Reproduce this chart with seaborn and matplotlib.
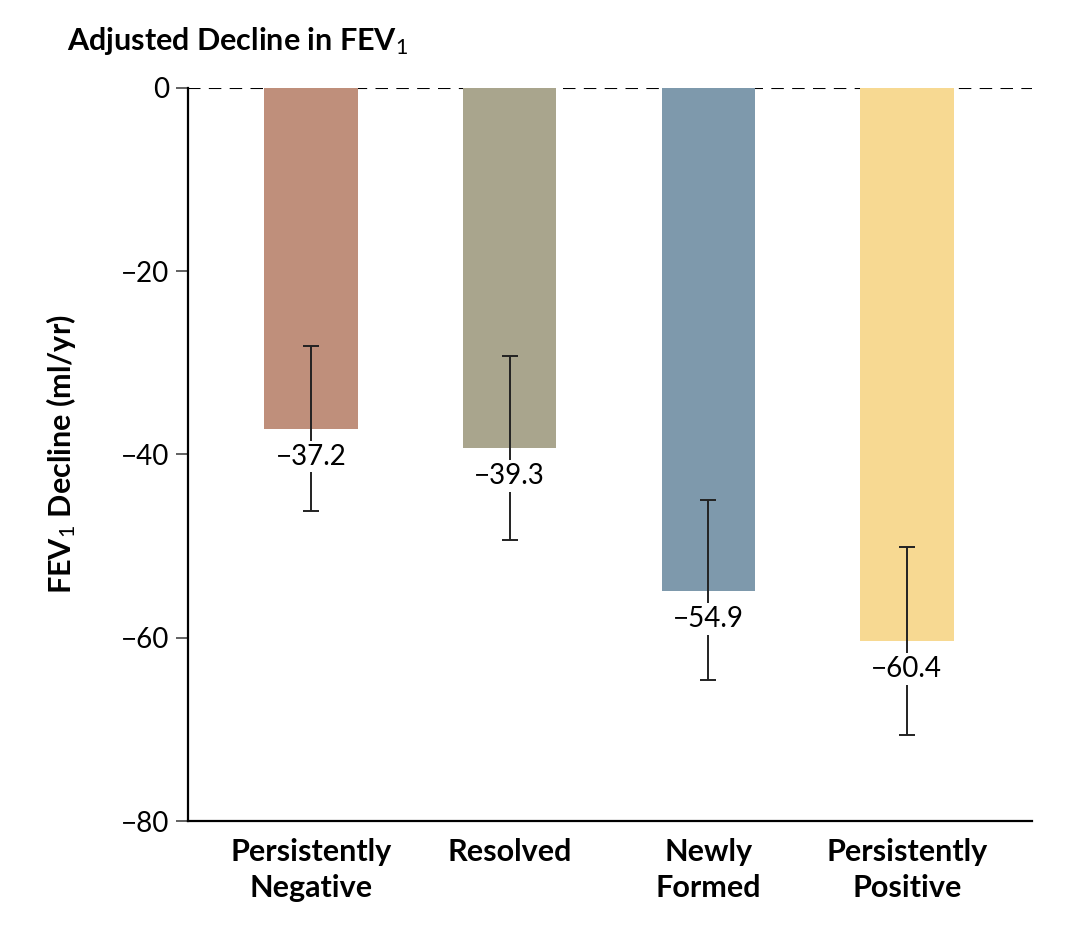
import matplotlib
matplotlib.use("Agg")
import matplotlib.pyplot as plt
import seaborn as sns
import numpy as np
import pandas as pd

# data
categories = ["Persistently\nNegative", "Resolved", "Newly\nFormed", "Persistently\nPositive"]
decline = [-37.2, -39.3, -54.9, -60.4]
ci_upper = [-28.2, -29.3, -45.0, -50.1]
ci_lower = [-46.2, -49.3, -64.6, -70.6]
bar_colors = ["#BF8F7B", "#A9A58D", "#7E99AC", "#F7D992"]
y_ticks = [0, -20, -40, -60, -80]

sns.set_style("white")
plt.rcParams['font.family'] = ['Lato', 'DejaVu Sans']
plt.rcParams['mathtext.fontset'] = 'custom'
plt.rcParams['mathtext.rm'] = 'Lato'
plt.rcParams['mathtext.it'] = 'Lato'
plt.rcParams['text.color'] = 'black'
plt.rcParams['axes.labelcolor'] = 'black'

df = pd.DataFrame({"Group": categories, "Decline": decline})

fig = plt.figure(figsize=(10.8, 9.25), dpi=100)
ax = fig.add_axes([0.174, 0.1124, 0.7816, 0.7925])

sns.barplot(data=df, x="Group", y="Decline", hue="Group", palette=bar_colors,
            width=0.47, errorbar=None, legend=False, ax=ax, zorder=1,
            edgecolor="none", saturation=1)

# error bars (asymmetric from the CI bounds)
xs = np.arange(len(categories))
vals = np.array(decline)
yerr = [vals - np.array(ci_lower), np.array(ci_upper) - vals]
ax.errorbar(xs, vals, yerr=yerr, fmt="none", ecolor="#222222",
            elinewidth=1.4, capsize=6, capthick=1.4, zorder=2)

# value labels sit just below each bar, masking the error line
for x, v in zip(xs, decline):
    ax.annotate("\u2212{:.1f}".format(abs(v)), xy=(x, v), xytext=(0, -20),
                textcoords="offset points", ha="center", va="center",
                fontsize=20, color="black", zorder=3,
                bbox=dict(facecolor="white", edgecolor="none", pad=2.0))

ax.axhline(0, color="black", linestyle=(0, (6, 4)), linewidth=1.5, zorder=0)

ax.set_ylim(-80, 0)
ax.set_xlim(-0.62, 3.63)
ax.set_yticks(y_ticks)
ax.set_yticklabels(["0" if t == 0 else "\u2212{}".format(abs(t)) for t in y_ticks])

for side in ["top", "right"]:
    ax.spines[side].set_visible(False)
for side in ["left", "bottom"]:
    ax.spines[side].set_color("black")
    ax.spines[side].set_linewidth(1.6)

ax.tick_params(axis="y", which="major", length=9, width=1.3, color="#555555",
               labelcolor="black", labelsize=20, pad=4.5, left=True, direction="out")
ax.tick_params(axis="x", length=0, pad=12, labelcolor="black")
for lbl in ax.get_xticklabels():
    lbl.set_fontsize(22)
    lbl.set_fontweight("bold")
    lbl.set_linespacing(1.38)

ax.set_xlabel("")
ax.set_ylabel("FEV$_1$ Decline (ml/yr)", fontsize=22, fontweight="bold", labelpad=31)

fig.text(67 / 1080, 1 - 50 / 925, "Adjusted Decline in FEV$_1$", fontsize=22,
         fontweight="bold", ha="left", va="baseline")

fig.savefig("out.png", dpi=100)
